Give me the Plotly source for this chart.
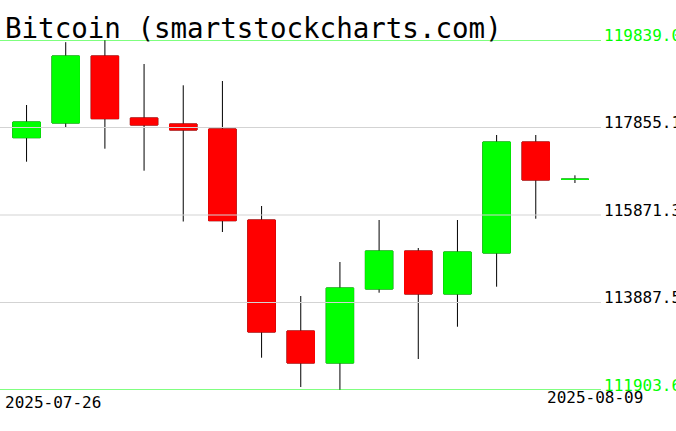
import plotly.graph_objects as go
import pandas as pd

# daily OHLC
dates = ["2025-07-26", "2025-07-27", "2025-07-28", "2025-07-29", "2025-07-30",
         "2025-07-31", "2025-08-01", "2025-08-02", "2025-08-03", "2025-08-04",
         "2025-08-05", "2025-08-06", "2025-08-07", "2025-08-08", "2025-08-09"]
opens = [117623.9, 117957.1, 119476.2, 118070.5, 117934.5, 117821.1, 115757.9, 113241.2,
         112515.6, 114193.4, 115055.0, 114080.1, 115009.7, 117526.4, 116680.7]
highs = [118365.3, 119790.0, 119839.0, 119294.8, 118811.9, 118909.4, 116075.3, 114034.7,
         114805.6, 115757.9, 115123.0, 115757.9, 117685.1, 117685.1, 116771.4]
lows = [117079.7, 117850.6, 117374.4, 116875.6, 115724.0, 115485.8, 112635.8, 111971.5,
        111903.6, 114109.5, 112606.3, 113338.4, 114245.6, 115787.1, 116596.8]
closes = [117979.8, 119476.2, 118054.6, 117911.8, 117798.4, 115742.0, 113218.5, 112515.6,
          114216.1, 115055.0, 114080.1, 115032.3, 117526.4, 116664.8, 116680.7]

ytick_vals = [111903.6, 113887.5, 115871.3, 117855.1, 119839.0]
ytick_text = ["111903.6", "113887.5", "115871.3", "117855.1", "119839.0"]

title = "Bitcoin (smartstockcharts.com)"

GREEN = "#00ff00"
RED = "#ff0000"
GRID = "#d3d3d3"
FONT = "DejaVu Sans Mono"

x = pd.to_datetime(dates)
body_hi = [max(o, c) for o, c in zip(opens, closes)]
body_lo = [min(o, c) for o, c in zip(opens, closes)]

fig = go.Figure()

# wicks (black)
fig.add_trace(go.Candlestick(
    x=x, open=opens, high=highs, low=lows, close=closes,
    increasing=dict(line=dict(color="black", width=1), fillcolor="black"),
    decreasing=dict(line=dict(color="black", width=1), fillcolor="black"),
    whiskerwidth=0, hoverinfo="skip", showlegend=False,
))
# coloured bodies on top
fig.add_trace(go.Candlestick(
    x=x, open=opens, high=body_hi, low=body_lo, close=closes,
    increasing=dict(line=dict(color=GREEN, width=1), fillcolor=GREEN),
    decreasing=dict(line=dict(color=RED, width=1), fillcolor=RED),
    whiskerwidth=0, showlegend=False,
))

# horizontal lines drawn over the candles
for i, v in enumerate(ytick_vals):
    edge = i == 0 or i == len(ytick_vals) - 1
    fig.add_shape(type="line", xref="paper", x0=0, x1=1, yref="y", y0=v, y1=v,
                  line=dict(color=GREEN if edge else GRID, width=1), layer="above")

labels = []
for i, t in enumerate(ytick_text):
    edge = i == 0 or i == len(ytick_text) - 1
    labels.append(f'<span style="color:{GREEN}">{t}</span>' if edge else t)

day = pd.Timedelta(days=1)
fig.update_layout(
    width=676, height=431,
    margin=dict(l=0, r=75, t=40, b=41),
    paper_bgcolor="white", plot_bgcolor="white",
    font=dict(family=FONT, size=16, color="black"),
    boxgap=0.3, boxgroupgap=0,
    xaxis=dict(
        type="date", range=[x[0] - 0.678 * day, x[-1] + 0.665 * day],
        showgrid=False, showticklabels=False, zeroline=False,
        rangeslider=dict(visible=False), fixedrange=True,
    ),
    yaxis=dict(
        side="right", range=[min(lows), max(highs)], automargin=False,
        tickvals=ytick_vals, ticktext=labels, ticks="",
        showgrid=False, zeroline=False, ticklabelshift=-5, ticklabelstandoff=2,
        tickfont=dict(family=FONT, size=16, color="black"),
    ),
    annotations=[
        dict(text=title, xref="paper", yref="paper", x=0, y=1, xanchor="left",
             yanchor="bottom", xshift=3, yshift=-6, showarrow=False,
             font=dict(family=FONT, size=27.5, color="black")),
        dict(text=dates[0], xref="paper", yref="paper", x=0, y=0, xanchor="left",
             yanchor="top", xshift=3, yshift=-1, showarrow=False,
             font=dict(family=FONT, size=16, color="black")),
        dict(text=dates[-1], xref="paper", yref="paper", x=645 / 601, y=0,
             xanchor="right", yanchor="top", yshift=4, showarrow=False,
             font=dict(family=FONT, size=16, color="black")),
    ],
)

# drop the page's default body margin so the figure sits at the window origin
fig.write_html("out.html", config={"displayModeBar": False},
               post_script="document.body.style.margin='0';")
